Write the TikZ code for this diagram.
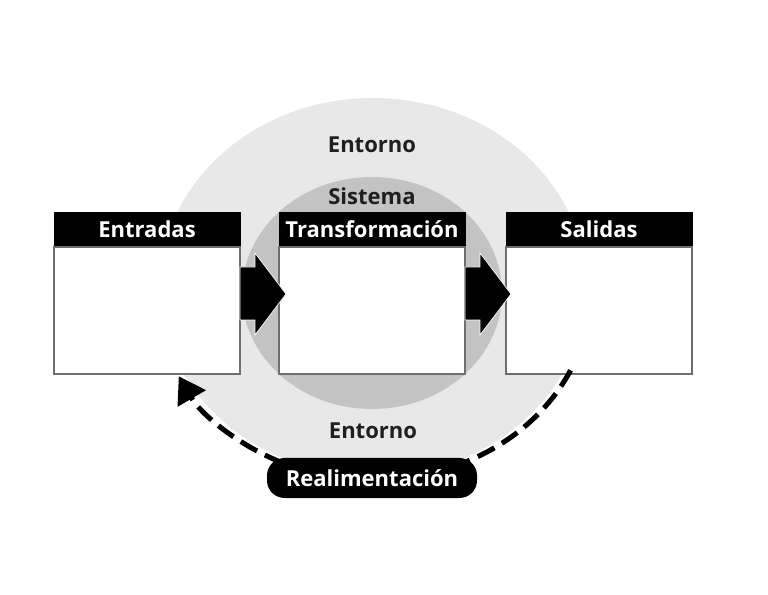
\documentclass[tikz,border=0pt]{standalone}
\usepackage{fontspec}
\setmainfont{Open Sans}
\usetikzlibrary{positioning,arrows.meta,calc}
\definecolor{envgray}{HTML}{E8E8E8}
\definecolor{sysgray}{HTML}{C3C3C3}
\definecolor{boxline}{HTML}{6E6E6E}

\begin{document}
\begin{tikzpicture}[x=0.03cm,y=0.03cm,>=Latex,font=\fontsize{18.8}{21}\selectfont\bfseries]
\tikzstyle{head}=[draw=black,fill=black,text=white,minimum width=5.58cm,minimum height=1.05cm,inner sep=0pt,outer sep=0pt]
\tikzstyle{body}=[draw=boxline,line width=1.2pt,fill=white,minimum width=5.58cm,minimum height=3.81cm,inner sep=0pt,outer sep=0pt]
\tikzstyle{label}=[text=black!88]
\tikzstyle{pill}=[fill=black,text=white,rounded corners=15pt,minimum width=6.3cm,minimum height=1.2cm,inner sep=0pt]
\tikzstyle{blockarr}=[fill=black,draw=white,line width=0.6pt,line join=miter]
\tikzstyle{feedback}=[line width=4.3pt,dash pattern=on 16pt off 7.5pt,-{Triangle[length=22pt,width=27pt]}]

\useasboundingbox (0,0) rectangle (768,594);

% environment and system
\fill[envgray] (373,307) ellipse[x radius=213,y radius=189];
\fill[sysgray] (372,301) ellipse[x radius=130,y radius=116];

\node[label] (envtop) at (372,449) {Entorno};
\node[label] (sys) at (372,398) {Sistema};
\node[label] (envbot) at (373,163) {Entorno};

% the three boxes
\node[head] (enthead) at (147,364.5) {Entradas};
\node[body,below=0pt of enthead] (entbody) {};
\node[head,right=1.17cm of enthead] (trhead) {Transformación};
\node[body,below=0pt of trhead] (trbody) {};
\node[head,right=1.23cm of trhead] (salhead) {Salidas};
\node[body,below=0pt of salhead] (salbody) {};

% block arrows
\foreach \b in {entbody,trbody}
  \filldraw[blockarr] ($(\b.east)+(0,-9.5)$) -- ++(15,0) -- ++(0,-15) -- ++(31,41)
    -- ++(-31,41) -- ++(0,-14) -- ++(-15,0) -- cycle;

% feedback loop
\coordinate (fbc) at (373,304);
\coordinate (fbstart) at ($(fbc)+(-25:218 and 190)$);
\draw[feedback] (fbstart) arc[start angle=-25,end angle=-153,x radius=218,y radius=190];
\node[pill] (realim) at (372,116) {Realimentación};
\end{tikzpicture}
\end{document}
